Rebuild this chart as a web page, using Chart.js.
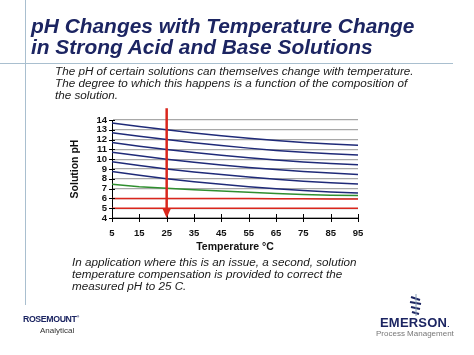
<!DOCTYPE html>
<html>
<head>
<meta charset="utf-8">
<script src="https://cdn.jsdelivr.net/npm/chart.js@4.4.1/dist/chart.umd.min.js"></script>
<style>
  html, body { margin:0; padding:0; background:#fff; }
  #page { position:relative; width:474px; height:355px; overflow:hidden; background:#fff; font-family:"Liberation Sans", Arial, sans-serif; }
  #cv { position:absolute; left:0; top:0; }
  .vrule { position:absolute; left:25px; top:0; width:1px; height:305px; background:#a9bfcf; }
  .hrule { position:absolute; left:0; top:63px; width:453px; height:1px; background:#a9bfcf; }
  .title { position:absolute; left:31px; top:16px; font-weight:bold; font-style:italic; font-size:20.9px; line-height:20.5px; color:#1c2562; white-space:nowrap; }
  .para { position:absolute; font-style:italic; font-size:11.7px; line-height:12px; color:#1a1a1a; white-space:nowrap; }
  .rose1 { position:absolute; left:23px; top:313px; font-weight:bold; font-size:9.5px; color:#1c2562; letter-spacing:-0.4px; transform:scaleX(0.92); transform-origin:left; }
  .rose2 { position:absolute; left:40px; top:326px; font-size:8px; color:#333; }
  .em1 { position:absolute; left:380px; top:315px; font-weight:bold; font-size:13px; color:#1c2562; letter-spacing:0.2px; }
  .em2 { position:absolute; left:376px; top:329px; font-size:8px; color:#777; }
</style>
</head>
<body>
<div id="page">
  <canvas id="cv" width="474" height="355"></canvas>
  <div class="vrule"></div>
  <div class="hrule"></div>
  <div class="title">pH Changes with Temperature Change<br>in Strong Acid and Base Solutions</div>
  <div class="para" style="left:55px; top:65px;">The pH of certain solutions can themselves change with temperature.<br>The degree to which this happens is a function of the composition of<br>the solution.</div>
  <div class="para" style="left:72px; top:256px;">In application where this is an issue, a second, solution<br>temperature compensation is provided to correct the<br>measured pH to 25 C.</div>
  <div class="rose1">ROSEMOUNT<sup style="font-size:4px">®</sup></div>
  <div class="rose2">Analytical</div>
  <svg style="position:absolute; left:407px; top:294px;" width="18" height="22" viewBox="0 0 18 22">
    <g stroke="#1c2562" stroke-width="2" fill="none">
      <line x1="4" y1="3" x2="13" y2="6"/>
      <line x1="3" y1="8" x2="14" y2="10"/>
      <line x1="4" y1="13" x2="13" y2="15"/>
      <line x1="5" y1="18" x2="12" y2="20"/>
    </g>
    <g stroke="#8aa0b8" stroke-width="1" fill="none">
      <line x1="9" y1="0" x2="9" y2="22"/>
    </g>
  </svg>
  <div class="em1">EMERSON<span style="font-size:8px">.</span></div>
  <div class="em2">Process Management</div>
</div>
<script>
// ---- data ----
const temps = [5, 15, 25, 35, 45, 55, 65, 75, 85, 95, 100];
const base13 = [13.70, 13.33, 13.00, 12.68, 12.40, 12.13, 11.90, 11.70, 11.55, 11.42, 11.32];
const base12 = [12.70, 12.33, 12.00, 11.68, 11.40, 11.13, 10.90, 10.70, 10.55, 10.42, 10.32];
const base11 = [11.70, 11.33, 11.00, 10.68, 10.41, 10.15, 9.92, 9.72, 9.56, 9.43, 9.34];
const base10 = [10.72, 10.34, 10.00, 9.69, 9.42, 9.16, 8.94, 8.74, 8.58, 8.45, 8.37];
const base9  = [9.73, 9.35, 9.00, 8.70, 8.43, 8.18, 7.96, 7.76, 7.60, 7.47, 7.39];
const base8  = [8.75, 8.36, 8.00, 7.71, 7.45, 7.20, 6.99, 6.80, 6.65, 6.55, 6.50];
const neutral = [7.45, 7.20, 7.03, 6.88, 6.75, 6.62, 6.50, 6.40, 6.33, 6.29, 6.28];
const acid6 = [6.00, 6.00, 6.00, 6.00, 6.00, 5.99, 5.97, 5.96, 5.95, 5.95, 5.95];
const acid5 = [5.00, 5.00, 5.00, 5.00, 5.00, 5.00, 5.00, 5.00, 5.00, 5.00, 5.00];
const xTicks = [5, 15, 25, 35, 45, 55, 65, 75, 85, 95];
const yTicks = [4, 5, 6, 7, 8, 9, 10, 11, 12, 13, 14];
const refTemp = 25;      // arrow position
const arrowTop = 15.2;   // arrow starts above plot
const arrowBottom = 4;

const BLUE = '#1f2a78', GREEN = '#2f8f2f', RED = '#d9261c';
function ds(vals, color) {
  return { data: temps.map((t, i) => ({ x: t, y: vals[i] })), borderColor: color, borderWidth: 1.5,
           pointRadius: 0, tension: 0, fill: false, clip: false };
}

const crossTicks = {
  id: 'crossTicks',
  afterDatasetsDraw(chart) {
    const { ctx, scales: { x, y } } = chart;
    ctx.save();
    ctx.strokeStyle = '#000'; ctx.lineWidth = 1;
    const x0 = x.getPixelForValue(5), y0 = y.getPixelForValue(4);
    yTicks.forEach(v => { const py = Math.round(y.getPixelForValue(v)) + 0.5; ctx.beginPath(); ctx.moveTo(x0 - 3, py); ctx.lineTo(x0 + 3, py); ctx.stroke(); });
    xTicks.forEach(v => { const px = Math.round(x.getPixelForValue(v)) + 0.5; ctx.beginPath(); ctx.moveTo(px, y0 - 4); ctx.lineTo(px, y0 + 4); ctx.stroke(); });
    // arrow
    const ax = x.getPixelForValue(refTemp);
    const yt = y.getPixelForValue(arrowTop), yb = y.getPixelForValue(arrowBottom);
    ctx.strokeStyle = RED; ctx.fillStyle = RED; ctx.lineWidth = 2.5;
    ctx.beginPath(); ctx.moveTo(ax, yt); ctx.lineTo(ax, yb - 7); ctx.stroke();
    ctx.beginPath(); ctx.moveTo(ax - 4, yb - 9); ctx.lineTo(ax + 4, yb - 9); ctx.lineTo(ax, yb); ctx.closePath(); ctx.fill();
    ctx.restore();
  }
};

new Chart(document.getElementById('cv'), {
  type: 'line',
  data: { datasets: [ds(acid5, RED), ds(acid6, RED), ds(neutral, GREEN), ds(base8, BLUE), ds(base9, BLUE), ds(base10, BLUE), ds(base11, BLUE), ds(base12, BLUE), ds(base13, BLUE)] },
  options: {
    responsive: false, animation: false, events: [],
    layout: { padding: { left: 60, right: 116, top: 120, bottom: 102 } },
    plugins: { legend: { display: false }, tooltip: { enabled: false } },
    scales: {
      x: {
        type: 'linear', min: 5, max: 95,
        afterBuildTicks: s => { s.ticks = xTicks.map(v => ({ value: v })); },
        afterFit: s => { s.height = 35; },
        grid: { display: false, drawTicks: false },
        border: { display: true, color: '#000', width: 1 },
        ticks: { padding: 10, color: '#111', font: { family: 'Liberation Sans', weight: 'bold', size: 9.5 }, maxRotation: 0, autoSkip: false },
        title: { display: true, text: 'Temperature °C', color: '#111', font: { family: 'Liberation Sans', weight: 'bold', size: 10.5 }, padding: { top: 2, bottom: 0 } }
      },
      y: {
        type: 'linear', min: 4, max: 14,
        afterBuildTicks: s => { s.ticks = yTicks.map(v => ({ value: v })); },
        afterFit: s => { s.width = 52; },
        grid: { color: '#a8a8a8', lineWidth: 1.3, drawTicks: false },
        border: { display: true, color: '#000', width: 1 },
        ticks: { padding: 5, color: '#111', font: { family: 'Liberation Sans', weight: 'bold', size: 9.5 }, autoSkip: false },
        title: { display: true, text: 'Solution pH', color: '#111', font: { family: 'Liberation Sans', weight: 'bold', size: 10.5 }, padding: { top: 9, bottom: 0 } }
      }
    }
  },
  plugins: [crossTicks]
});
</script>
</body>
</html>
